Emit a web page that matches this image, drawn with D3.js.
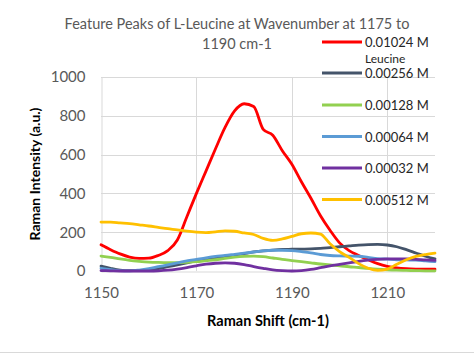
<!DOCTYPE html>
<html>
<head>
<meta charset="utf-8">
<script src="https://cdn.jsdelivr.net/npm/d3@7"></script>
<style>
  body { margin: 0; background: #fff; }
  svg { display: block; font-family: Lato, "Open Sans", sans-serif; }
</style>
</head>
<body>
<div id="chart"></div>
<script>
// Data
const shifts = d3.range(1150, 1221, 2);
const xTicks = [1150, 1170, 1190, 1210];
const yTicks = [0, 200, 400, 600, 800, 1000];

const seriesNames = ["0.01024 M Leucine", "0.00256 M", "0.00128 M", "0.00064 M", "0.00032 M", "0.00512 M"];
const seriesColors = ["#ff0000", "#44546a", "#92d050", "#5b9bd5", "#7030a0", "#ffc000"];

const red01024 = [135, 110, 88, 72, 65, 66, 80, 105, 160, 280, 400, 515, 630, 740, 825, 862, 848, 730,
    700, 620, 550, 460, 375, 285, 210, 145, 105, 80, 58, 38, 24, 16, 12, 10, 9, 9];
const gray00256 = [25, 14, 5, 2, 2, 5, 12, 22, 32, 42, 52, 60, 68, 75, 82, 90, 98, 104,
    108, 111, 112, 113, 114, 117, 121, 125, 129, 133, 136, 137, 134, 125, 110, 93, 76, 62];
const green00128 = [77, 70, 62, 55, 50, 46, 44, 43, 43, 45, 48, 53, 58, 65, 71, 75, 77, 74,
    67, 60, 54, 48, 42, 36, 31, 27, 22, 18, 13, 9, 6, 4, 3, 2, 1, 1];
const blue00064 = [14, 7, 2, 1, 5, 12, 22, 32, 42, 52, 60, 68, 75, 80, 86, 92, 98, 104,
    107, 107, 105, 100, 94, 85, 80, 78, 77, 76, 70, 64, 61, 58, 57, 56, 52, 48];
const purple00032 = [2, 1, 0, 0, 0, 0, 1, 4, 10, 18, 27, 35, 40, 42, 40, 33, 23, 14,
    6, 2, 0, 2, 8, 17, 26, 34, 42, 50, 56, 60, 62, 63, 62, 60, 57, 55];
const yellow00512 = [252, 252, 248, 244, 238, 232, 225, 218, 212, 205, 200, 198, 202, 207, 205, 196, 188, 168,
    158, 165, 178, 192, 196, 190, 140, 100, 70, 38, 14, 3, 10, 35, 58, 75, 85, 92];

const seriesValues = [red01024, gray00256, green00128, blue00064, purple00032, yellow00512];

const width = 474, height = 354;
const margin = { top: 77, right: 39, bottom: 83, left: 101 };

const svg = d3.select('#chart').append('svg')
    .attr('width', width)
    .attr('height', height);

// chart border (only the bottom edge is visible in the picture)
svg.append('line')
    .attr('x1', 0).attr('x2', width)
    .attr('y1', 352.5).attr('y2', 352.5)
    .attr('stroke', '#d9d9d9');

const xScale = d3.scaleLinear()
    .domain([1150, 1220])
    .range([margin.left, width - margin.right]);

const yScale = d3.scaleLinear()
    .domain([0, 1000])
    .range([height - margin.bottom, margin.top]);

// gridlines
const grid = svg.append('g');
grid.selectAll('.hgrid')
    .data(yTicks.slice(1))
    .join('line')
    .attr('x1', xScale(1150)).attr('x2', xScale(1220))
    .attr('y1', d => Math.round(yScale(d)) + 0.5)
    .attr('y2', d => Math.round(yScale(d)) + 0.5)
    .attr('stroke', '#d9d9d9');
grid.selectAll('.vgrid')
    .data(xTicks.slice(1))
    .join('line')
    .attr('x1', d => Math.round(xScale(d)) + 0.5)
    .attr('x2', d => Math.round(xScale(d)) + 0.5)
    .attr('y1', yScale(0)).attr('y2', yScale(1000))
    .attr('stroke', '#d9d9d9');

// axes
const xAxis = svg.append('g')
    .attr('transform', `translate(0, ${Math.round(yScale(0)) + 0.5})`)
    .call(d3.axisBottom(xScale).tickValues(xTicks).tickSize(0).tickPadding(16).tickFormat(d3.format('d')));
const yAxis = svg.append('g')
    .attr('transform', `translate(${Math.round(xScale(1150)) + 0.5}, 0)`)
    .call(d3.axisLeft(yScale).tickValues(yTicks).tickSize(0).tickPadding(16).tickFormat(d3.format('d')));

[xAxis, yAxis].forEach(ax => {
    ax.select('.domain').attr('stroke', '#d9d9d9').attr('stroke-width', 1);
    ax.selectAll('text')
        .attr('fill', '#595959')
        .style('font-size', '15px')
        .style('font-family', 'Lato, "Open Sans", sans-serif');
});

// lines
const line = d3.line()
    .x((d, i) => xScale(shifts[i]))
    .y(d => yScale(d))
    .curve(d3.curveMonotoneX);

svg.append('g')
    .selectAll('path')
    .data(seriesValues)
    .join('path')
    .attr('d', d => line(d))
    .attr('fill', 'none')
    .attr('stroke', (d, i) => seriesColors[i])
    .attr('stroke-width', 2.8)
    .attr('stroke-linejoin', 'round')
    .attr('stroke-linecap', 'round');

// title
const title = svg.append('text')
    .attr('text-anchor', 'middle')
    .attr('fill', '#595959')
    .style('font-size', '14.5px');
title.append('tspan').attr('x', 237).attr('y', 29)
    .text('Feature Peaks of L-Leucine at Wavenumber at 1175 to');
title.append('tspan').attr('x', 237).attr('y', 49)
    .text('1190 cm-1');

// axis titles
svg.append('text')
    .attr('x', 268).attr('y', 326)
    .attr('text-anchor', 'middle')
    .attr('fill', '#000')
    .style('font-size', '14.5px')
    .style('font-weight', 'bold')
    .text('Raman Shift (cm-1)');

svg.append('text')
    .attr('transform', 'translate(40, 174) rotate(-90)')
    .attr('text-anchor', 'middle')
    .attr('fill', '#000')
    .style('font-size', '14px')
    .style('font-weight', 'bold')
    .text('Raman Intensity (a.u.)');

// legend
const legendY = [42, 73, 105, 136.5, 168, 199.5];
const legend = svg.append('g')
    .selectAll('g')
    .data(seriesNames)
    .join('g')
    .attr('transform', (d, i) => `translate(322, ${legendY[i]})`);

legend.append('line')
    .attr('x1', 0).attr('x2', 40)
    .attr('stroke', (d, i) => seriesColors[i])
    .attr('stroke-width', 3);

legend.each(function (d) {
    const words = d.split(' M ');
    const txt = d3.select(this).append('text')
        .attr('x', 43)
        .attr('y', 5)
        .attr('fill', '#262626')
        .style('font-size', '13px');
    txt.append('tspan').attr('x', 43).text(words.length > 1 ? words[0] + ' M' : d);
    if (words.length > 1) {
        txt.append('tspan').attr('x', 43).attr('dy', 16).style('font-size', '12px').text(words[1]);
    }
});
</script>
</body>
</html>
